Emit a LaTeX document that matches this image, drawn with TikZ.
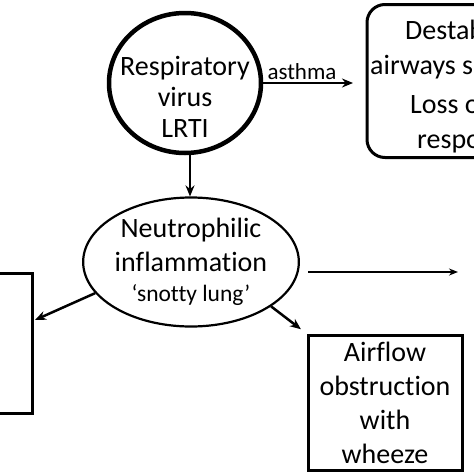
\documentclass[tikz,border=0pt]{standalone}
\usepackage{fontspec}
\setmainfont{Carlito}[Ligatures=NoCommon]
\usetikzlibrary{shapes.geometric,arrows.meta}

\tikzset{
  bigtext/.style={font=\fontsize{28}{34}\selectfont},
  virus/.style={draw,ellipse,line width=4.5pt,minimum width=152pt,minimum height=140pt,inner sep=0pt},
  inflam/.style={draw,ellipse,line width=2.2pt,minimum width=205pt,minimum height=129pt,inner sep=0pt,align=center,bigtext},
  outbox/.style={draw,line width=3pt,inner sep=0pt},
  cuttext/.style={bigtext,anchor=base west,inner sep=0pt},
  arr/.style={line width=2.5pt,-{Stealth[length=11pt,width=9pt]}},
  thinarr/.style={line width=1.5pt,-{Stealth[length=9pt,width=7pt]}}
}

\begin{document}
\begin{tikzpicture}[x=1pt,y=-1pt]
%fix the frame of the picture
\clip (0,0) rectangle (474,474);
\fill[white] (0,0) rectangle (474,474);
%the virus circle and the inflammation ellipse
\node[virus] (circ) at (185,83) {};
\node[align=center,font=\fontsize{28}{31}\selectfont,inner sep=0pt] (circtext) at (185,97) {Respiratory\\virus\\LRTI};
\node[inflam] (ell) at (191,262) {Neutrophilic\\inflammation\\[-4pt]{\fontsize{23.5}{25}\selectfont\textquoteleft snotty lung\textquoteright}};
%the boxes
\node[outbox,rounded corners=18pt,minimum width=220pt,minimum height=153pt] (rbox) at (477,81) {};
\node[outbox,minimum width=150pt,minimum height=140pt] (lbox) at (-43,343) {};
\node[outbox,minimum width=154pt,minimum height=135pt,align=center,bigtext] (air) at (385,402.5) {Airflow\\obstruction\\with\\wheeze};
%text in the right box (cut off by the frame)
\node[cuttext] (d1) at (405,39) {Destab};
\node[cuttext] (d2) at (370,74) {airways s};
\node[cuttext] (d3) at (410,113) {Loss o};
\node[cuttext] (d4) at (417,148) {respo};
%free ends of the arrows
\coordinate (tipR) at (353,83);
\coordinate (tipL) at (35,320);
\coordinate (startT) at (308,272);
\coordinate (endT) at (458,272);
%the arrows
\draw[arr] (circ.east |- tipR) -- (tipR);
\node[anchor=base,font=\fontsize{23}{25}\selectfont,inner sep=0pt] (lab) at (302,79) {asthma};
\draw[arr] (circ.south -| 190,0) -- (ell.north -| 190,0);
\draw[thinarr] (startT) -- (endT);
\draw[arr] (ell.198) -- (tipL);
\draw[arr,shorten >=7pt] (ell.331) -- (air.north west);
\end{tikzpicture}
\end{document}
